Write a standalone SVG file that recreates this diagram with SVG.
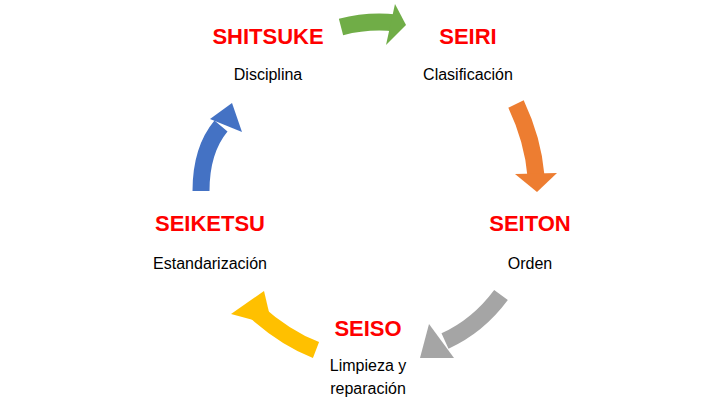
<svg xmlns="http://www.w3.org/2000/svg" width="717" height="417" viewBox="0 0 717 417">
<style>
.t{font-family:"Liberation Sans",Arial,sans-serif;font-weight:bold;font-size:22px;fill:#ff0000;text-anchor:middle}
.s{font-family:"Liberation Sans",Arial,sans-serif;font-size:16px;fill:#000;text-anchor:middle}
.sh{fill:none;stroke-width:17}
</style>
<rect width="717" height="417" fill="#fff"/>
<g id="connectors">
<path class="sh" stroke="#70ad47" d="M341,27 Q368,20 396,23"/><polygon fill="#70ad47" points="395,4 406,25 386,45"/>
<path class="sh" stroke="#ed7d31" d="M516,104 Q533,140 536,176"/><polygon fill="#ed7d31" points="515,174 557,173 537,192"/>
<path class="sh" stroke="#a5a5a5" d="M501,295 Q478,326 445,341"/><polygon fill="#a5a5a5" points="429,324 420,358 454,358"/>
<path class="sh" stroke="#ffc000" d="M316,350 Q285,338 255,311"/><polygon fill="#ffc000" points="264,291 231,314 272,325"/>
<path class="sh" stroke="#4472c4" d="M201,191 Q201,150 221,126"/><polygon fill="#4472c4" points="232,103 210,119 242,132"/>
</g>
<g id="shitsuke"><text class="t" x="268" y="44">SHITSUKE</text><text class="s" x="268" y="80">Disciplina</text></g>
<g id="seiri"><text class="t" x="468" y="44">SEIRI</text><text class="s" x="468" y="80">Clasificación</text></g>
<g id="seiton"><text class="t" x="530" y="231">SEITON</text><text class="s" x="530" y="269">Orden</text></g>
<g id="seiketsu"><text class="t" x="210" y="231">SEIKETSU</text><text class="s" x="210" y="269">Estandarización</text></g>
<g id="seiso"><text class="t" x="368" y="336">SEISO</text><text class="s" x="368" y="371">Limpieza y</text><text class="s" x="368" y="394">reparación</text></g>
</svg>
